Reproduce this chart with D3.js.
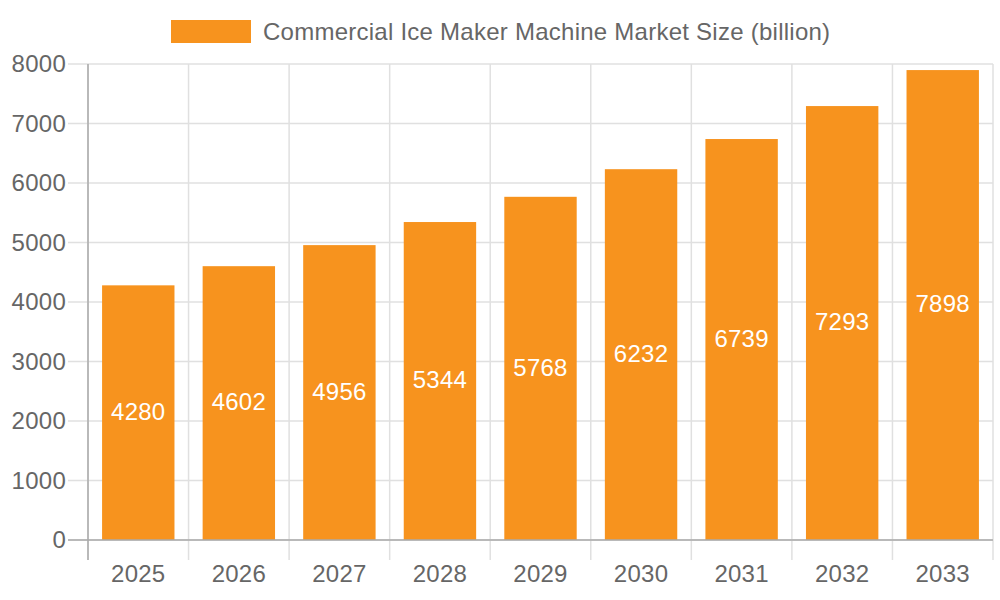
<!DOCTYPE html>
<html lang="en">
<head>
  <meta charset="UTF-8">
  <title>Commercial Ice Maker Machine Market Size</title>
  <script src="https://d3js.org/d3.v7.min.js"></script>
  <style>
    body { margin: 0; background: #fff; }
    text { font-family: "Liberation Sans", Arial, sans-serif; fill: #666; letter-spacing: 0.25px; }
  </style>
</head>
<body>
  <svg width="1000" height="600"></svg>
  <script>
    // Data
    const years = ["2025", "2026", "2027", "2028", "2029", "2030", "2031", "2032", "2033"];
    const values = [4280, 4602, 4956, 5344, 5768, 6232, 6739, 7293, 7898];
    const yTicks = [0, 1000, 2000, 3000, 4000, 5000, 6000, 7000, 8000];
    const seriesName = "Commercial Ice Maker Machine Market Size (billion)";

    const svg = d3.select("svg");
    const margin = { left: 88, right: 7, top: 64, bottom: 60 };
    const width = 1000, height = 600;
    const barColor = "#F7931E";
    const gridColor = "#e0e0e0";
    const fontSize = "24px";

    // One band per year, bars take 72% of their column
    const x = d3.scaleBand()
      .domain(years)
      .range([margin.left, width - margin.right])
      .paddingInner(0.28)
      .paddingOuter(0.14);

    const y = d3.scaleLinear()
      .domain([0, 8000])
      .range([height - margin.bottom, margin.top]);

    const colW = x.step();
    const colStart = i => margin.left + i * colW;

    // Horizontal grid lines
    svg.append("g")
      .selectAll("line")
      .data(yTicks)
      .enter().append("line")
        .attr("x1", margin.left - 20)
        .attr("x2", width - margin.right)
        .attr("y1", d => y(d))
        .attr("y2", d => y(d))
        .attr("stroke", gridColor)
        .attr("stroke-width", 1.5);

    // Vertical grid lines
    svg.append("g")
      .selectAll("line")
      .data(d3.range(years.length + 1))
      .enter().append("line")
        .attr("x1", d => colStart(d))
        .attr("x2", d => colStart(d))
        .attr("y1", margin.top)
        .attr("y2", height - margin.bottom + 20)
        .attr("stroke", gridColor)
        .attr("stroke-width", 1.5);

    // Bars
    svg.append("g")
      .selectAll("rect")
      .data(values)
      .enter().append("rect")
        .attr("x", (d, i) => x(years[i]))
        .attr("width", x.bandwidth())
        .attr("y", d => y(d))
        .attr("height", d => y(0) - y(d))
        .attr("fill", barColor);

    // Axis lines
    svg.append("line")
      .attr("x1", margin.left).attr("x2", margin.left)
      .attr("y1", margin.top).attr("y2", height - margin.bottom + 20)
      .attr("stroke", "#aaa").attr("stroke-width", 1.5);
    svg.append("line")
      .attr("x1", margin.left - 20).attr("x2", width - margin.right)
      .attr("y1", y(0)).attr("y2", y(0))
      .attr("stroke", "#aaa").attr("stroke-width", 1.5);

    // Value labels inside bars
    svg.append("g")
      .selectAll("text")
      .data(values)
      .enter().append("text")
        .attr("x", (d, i) => x(years[i]) + x.bandwidth() / 2)
        .attr("y", d => (y(d) + y(0)) / 2)
        .attr("dy", "0.3em")
        .attr("text-anchor", "middle")
        .style("fill", "#fff")
        .style("font-size", fontSize)
        .text(d => d);

    // Y tick labels
    svg.append("g")
      .selectAll("text")
      .data(yTicks)
      .enter().append("text")
        .attr("x", margin.left - 22)
        .attr("y", d => y(d))
        .attr("dy", "0.35em")
        .attr("text-anchor", "end")
        .style("font-size", fontSize)
        .text(d => d);

    // X tick labels
    svg.append("g")
      .selectAll("text")
      .data(years)
      .enter().append("text")
        .attr("x", d => x(d) + x.bandwidth() / 2)
        .attr("y", y(0) + 34)
        .attr("dy", "0.35em")
        .attr("text-anchor", "middle")
        .style("font-size", fontSize)
        .text(d => d);

    // Legend
    const legend = svg.append("g");
    legend.append("rect")
      .attr("x", 171).attr("y", 20)
      .attr("width", 80).attr("height", 23)
      .attr("fill", barColor);
    legend.append("text")
      .attr("x", 263).attr("y", 32)
      .attr("dy", "0.35em")
      .style("font-size", fontSize)
      .text(seriesName);
  </script>
</body>
</html>
